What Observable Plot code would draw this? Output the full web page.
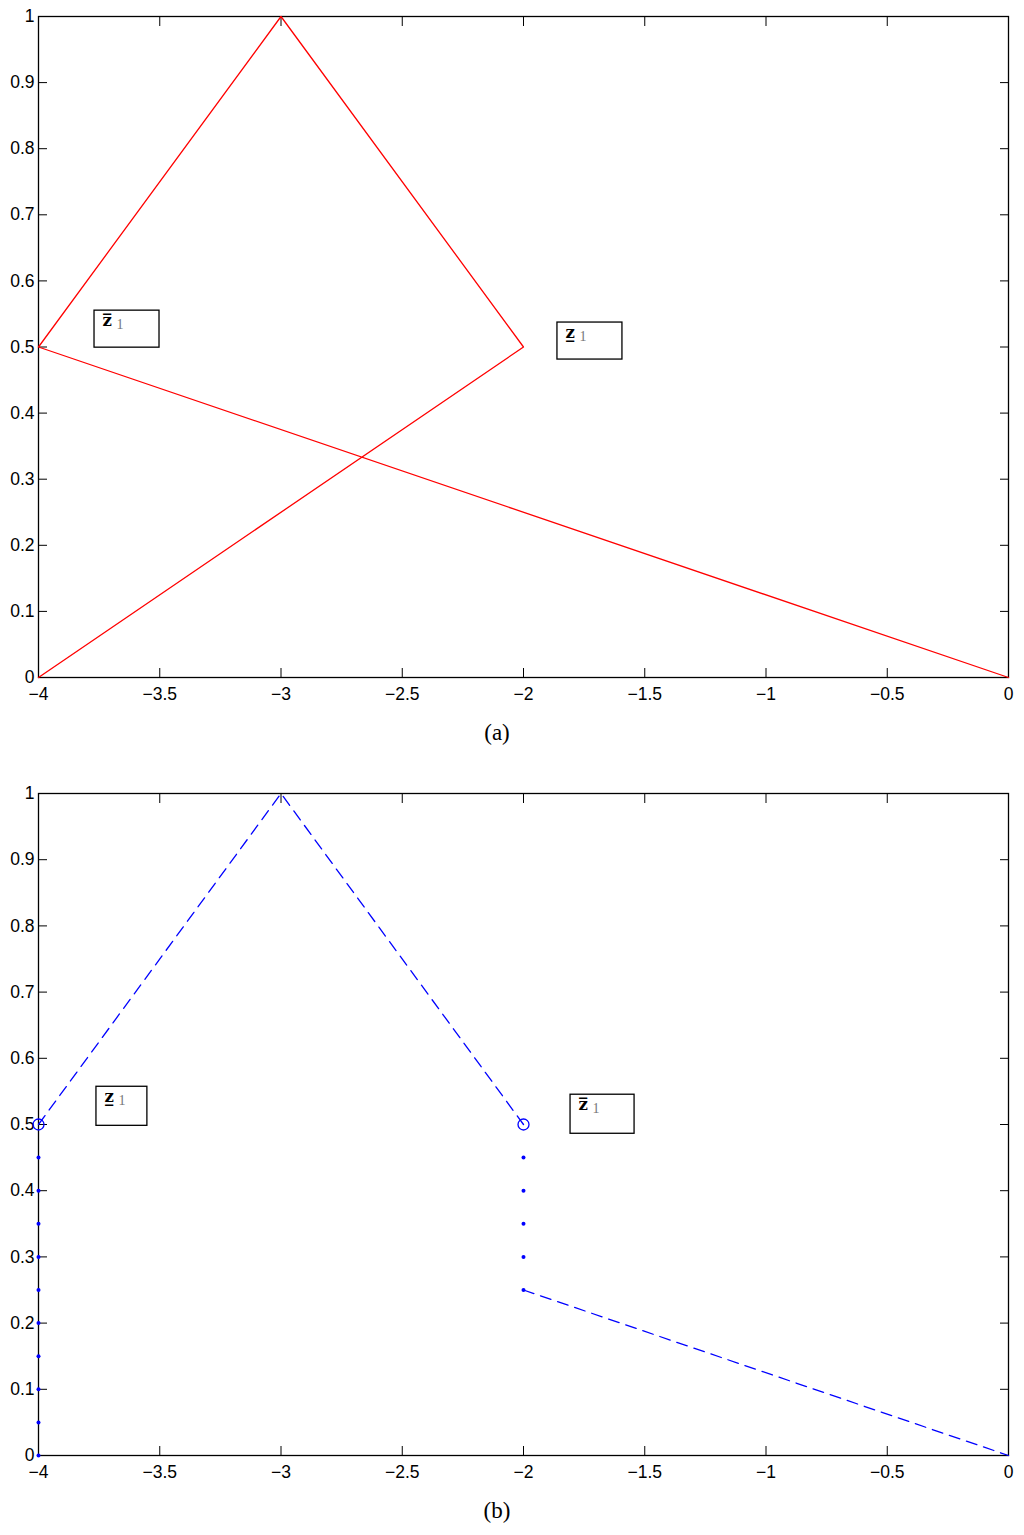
<!DOCTYPE html>
<html><head><meta charset="utf-8">
<script src="https://cdn.jsdelivr.net/npm/d3@7"></script>
<script src="https://cdn.jsdelivr.net/npm/@observablehq/plot@0.6"></script>
<style>
body{margin:0;background:#fff;}
#wrap{position:relative;width:1024px;height:1535px;}
#wrap svg{position:absolute;left:0;display:block;}
.cap{position:absolute;width:100px;text-align:center;font-family:"Liberation Serif","DejaVu Serif",serif;font-size:23px;line-height:30px;color:#000;}
</style></head><body><div id="wrap"></div>
<script>
// ---- data ----
const xTicks = [-4, -3.5, -3, -2.5, -2, -1.5, -1, -0.5, 0];
const yTicks = [0, 0.1, 0.2, 0.3, 0.4, 0.5, 0.6, 0.7, 0.8, 0.9, 1];

// panel (a): red polyline
const aX = [-4, -2, -3, -4, 0];
const aY = [0, 0.5, 1, 0.5, 0];

// panel (b): dashed segments
const bDash1X = [-4, -3, -2];
const bDash1Y = [0.5, 1, 0.5];
const bDash2X = [-2, 0];
const bDash2Y = [0.25, 0];
// circles
const bCircX = [-4, -2];
const bCircY = [0.5, 0.5];
// dotted vertical segments
const bDotsLeftX = -4;
const bDotsLeftY = [0, 0.05, 0.1, 0.15, 0.2, 0.25, 0.3, 0.35, 0.4, 0.45];
const bDotsRightX = -2;
const bDotsRightY = [0.25, 0.3, 0.35, 0.4, 0.45];

// label boxes (data coordinates) and their symbols
const aBoxX1 = [-3.769, -1.860], aBoxX2 = [-3.501, -1.592];
const aBoxY1 = [0.499, 0.481],   aBoxY2 = [0.555, 0.537];
const aBoxMark = ["over", "under"];
const bBoxX1 = [-3.761, -1.806], bBoxX2 = [-3.551, -1.542];
const bBoxY1 = [0.498, 0.486],   bBoxY2 = [0.557, 0.545];
const bBoxMark = ["under", "over"];

// ---- helpers ----
const fmt = d => (d < 0 ? "\u2212" : "") + String(Math.abs(d));
const tickFont = {fontSize: 17.5, fontFamily: "'Liberation Sans', Arial, sans-serif"};

function axes() {
  return [
    Plot.axisX({anchor: "bottom", ticks: xTicks, tickSize: -9, tickPadding: 19, tickFormat: fmt, label: null, stroke: "#000", ...tickFont, fill: "#000"}),
    Plot.axisX({anchor: "top", ticks: xTicks, tickSize: -9, tickFormat: () => "", label: null, stroke: "#000"}),
    Plot.axisY({anchor: "left", ticks: yTicks, tickSize: -9, tickPadding: 13, tickFormat: fmt, label: null, stroke: "#000", ...tickFont, fill: "#000"}),
    Plot.axisY({anchor: "right", ticks: yTicks, tickSize: -9, tickFormat: () => "", label: null, stroke: "#000"}),
    Plot.frame({stroke: "#000", strokeWidth: 1.3})
  ];
}

function boxes(x1, x2, y1, y2, kind) {
  const rows = x1.map((_, i) => ({x1: x1[i], x2: x2[i], y1: y1[i], y2: y2[i], k: kind[i]}));
  return [
    Plot.rect(rows, {x1: "x1", x2: "x2", y1: "y1", y2: "y2", fill: "white", stroke: "#000", strokeWidth: 1.3}),
    Plot.text(rows, {x: "x1", y: "y2", text: d => "z" + (d.k === "over" ? "\u0305" : "\u0332"),
      textAnchor: "start", lineAnchor: "bottom", dx: 8, dy: 15, fontWeight: "bold",
      fontFamily: "'DejaVu Serif', 'Liberation Serif', serif", fontSize: 16.5, fill: "#000"}),
    Plot.text(rows, {x: "x1", y: "y2", text: () => "1",
      textAnchor: "start", lineAnchor: "bottom", dx: 22, dy: 18,
      fontFamily: "'Liberation Serif', serif", fontSize: 14, fill: "#777"})
  ];
}

const common = {
  width: 1024, marginLeft: 38, marginRight: 16,
  x: {domain: [-4, 0]}, y: {domain: [0, 1]},
  style: {background: "transparent", overflow: "visible", fontSize: "17px"}
};

const wrap = document.getElementById("wrap");

// panel (a)
const aRows = aX.map((x, i) => ({x, y: aY[i]}));
const plotA = Plot.plot({
  ...common, height: 710, marginTop: 16, marginBottom: 33,
  marks: [
    ...axes(),
    Plot.line(aRows, {x: "x", y: "y", stroke: "#ff0000", strokeWidth: 1.3}),
    ...boxes(aBoxX1, aBoxX2, aBoxY1, aBoxY2, aBoxMark)
  ]
});
plotA.style.top = "0px";
wrap.appendChild(plotA);

// panel (b)
const d1 = bDash1X.map((x, i) => ({x, y: bDash1Y[i]}));
const d2 = bDash2X.map((x, i) => ({x, y: bDash2Y[i]}));
const circ = bCircX.map((x, i) => ({x, y: bCircY[i]}));
const dots = [
  ...bDotsLeftY.map(y => ({x: bDotsLeftX, y})),
  ...bDotsRightY.map(y => ({x: bDotsRightX, y}))
];
const plotB = Plot.plot({
  ...common, height: 728, marginTop: 33, marginBottom: 33,
  marks: [
    ...axes(),
    Plot.line(d1, {x: "x", y: "y", stroke: "#0000ff", strokeWidth: 1.3, strokeDasharray: "11,7"}),
    Plot.line(d2, {x: "x", y: "y", stroke: "#0000ff", strokeWidth: 1.3, strokeDasharray: "11,7"}),
    Plot.dot(dots, {x: "x", y: "y", r: 2, fill: "#0000ff", stroke: "none"}),
    Plot.dot(circ, {x: "x", y: "y", r: 5.5, fill: "none", stroke: "#0000ff", strokeWidth: 1.3}),
    ...boxes(bBoxX1, bBoxX2, bBoxY1, bBoxY2, bBoxMark)
  ]
});
plotB.style.top = "760px";
wrap.appendChild(plotB);

// captions
const capA = document.createElement("div");
capA.className = "cap"; capA.textContent = "(a)";
capA.style.left = "447px"; capA.style.top = "718px";
wrap.appendChild(capA);
const capB = document.createElement("div");
capB.className = "cap"; capB.textContent = "(b)";
capB.style.left = "447px"; capB.style.top = "1496px";
wrap.appendChild(capB);
</script>
</body></html>
